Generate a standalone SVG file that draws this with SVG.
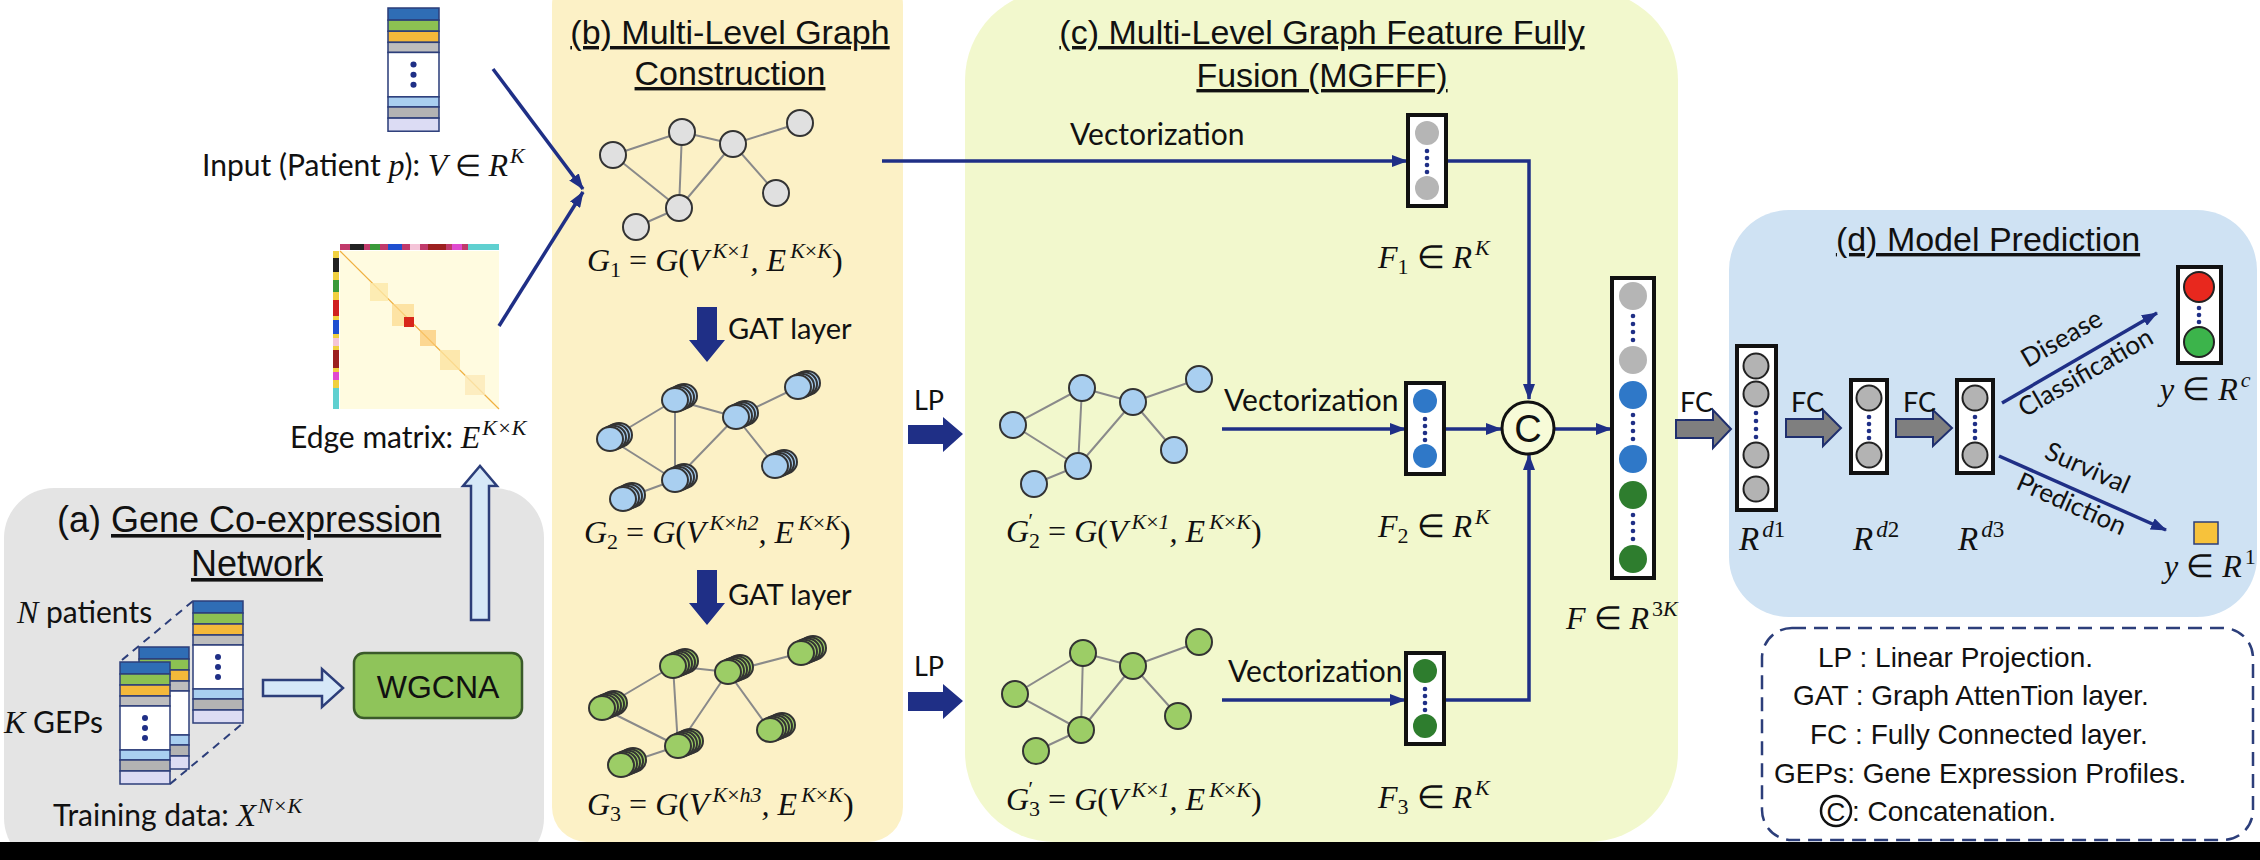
<svg xmlns="http://www.w3.org/2000/svg" xmlns:xlink="http://www.w3.org/1999/xlink" width="2260" height="860" viewBox="0 0 2260 860">
<style>
.ttl{font-family:"Liberation Sans",Arial,sans-serif;fill:#111;}
.lbl{font-family:Lato,"Open Sans",sans-serif;fill:#111;}
.math{font-family:"Liberation Serif",serif;font-style:italic;fill:#111;}
.up{font-style:normal;}
.edge{stroke:#8a8a8a;stroke-width:2;}
.n1{fill:#e0e0e0;stroke:#333;stroke-width:2;}
.n2{fill:#a9cff0;stroke:#333;stroke-width:2;}
.n3{fill:#9ccd66;stroke:#333;stroke-width:2;}
.conn{fill:none;stroke:#1f2f86;stroke-width:3.5;}
.vbox{fill:#fff;stroke:#111;stroke-width:4;}
.dot{fill:#1f2f86;}
.rc{fill:#b3b3b3;stroke:#222;stroke-width:2;}
.fc{fill:#7f7f7f;stroke:#1f2f6e;stroke-width:2;}
.hollow{fill:#d6e8f8;stroke:#2c3e7a;stroke-width:2.5;}
.navyfill{fill:#1f2f86;}
.stripe{stroke:#2c3e7a;stroke-width:1.5;}
</style>
<defs>
<marker id="ah" viewBox="0 0 16 12" refX="15" refY="6" markerWidth="16" markerHeight="12" markerUnits="userSpaceOnUse" orient="auto"><path d="M0,0 L16,6 L0,12 z" fill="#1f2f86"/></marker>
<g id="stk2"><ellipse cx="9" cy="-4" rx="13" ry="12" class="n2"/><ellipse cx="6" cy="-2.7" rx="13" ry="12" class="n2"/><ellipse cx="3" cy="-1.3" rx="13" ry="12" class="n2"/><ellipse cx="0" cy="0" rx="13" ry="12" class="n2"/></g>
<g id="stk3"><ellipse cx="12" cy="-5" rx="13" ry="12" class="n3"/><ellipse cx="9" cy="-3.7" rx="13" ry="12" class="n3"/><ellipse cx="6" cy="-2.5" rx="13" ry="12" class="n3"/><ellipse cx="3" cy="-1.2" rx="13" ry="12" class="n3"/><ellipse cx="0" cy="0" rx="13" ry="12" class="n3"/></g>
<g id="mat">
<rect x="0" y="0" width="50" height="12" fill="#2f6db5" class="stripe"/>
<rect x="0" y="12" width="50" height="11" fill="#8cc152" class="stripe"/>
<rect x="0" y="23" width="50" height="11" fill="#f4b93a" class="stripe"/>
<rect x="0" y="34" width="50" height="10" fill="#bdbdbd" class="stripe"/>
<rect x="0" y="44" width="50" height="44" fill="#fff" class="stripe"/>
<rect x="0" y="88" width="50" height="10" fill="#a9cff0" class="stripe"/>
<rect x="0" y="98" width="50" height="11" fill="#b3b3b3" class="stripe"/>
<rect x="0" y="109" width="50" height="13" fill="#dcdcf4" class="stripe"/>
<circle cx="25" cy="56" r="3" class="dot"/><circle cx="25" cy="66" r="3" class="dot"/><circle cx="25" cy="76" r="3" class="dot"/>
</g>
</defs>

<g id="panel-a"><rect x="4" y="488" width="540" height="380" rx="50" fill="#e4e4e4"/></g>
<g id="panel-b"><rect x="552" y="-30" width="351" height="872" rx="35" fill="#fcf1c6"/></g>
<g id="panel-c"><rect x="965" y="-10" width="713" height="852" rx="90" fill="#f2f8cd"/></g>
<g id="panel-d"><rect x="1729" y="210" width="528" height="407" rx="60" fill="#cfe2f3"/></g>

<g id="title-a">
<text class="ttl" x="57" y="532" font-size="36">(a)  <tspan text-decoration="underline">Gene Co-expression</tspan></text>
<text class="ttl" x="257" y="576" font-size="36" text-anchor="middle" text-decoration="underline">Network</text>
</g>
<g id="title-b">
<text class="ttl" x="730" y="44" font-size="34" text-anchor="middle" text-decoration="underline">(b) Multi-Level Graph</text>
<text class="ttl" x="730" y="85" font-size="34" text-anchor="middle" text-decoration="underline">Construction</text>
</g>
<g id="title-c">
<text class="ttl" x="1322" y="44" font-size="34" text-anchor="middle" text-decoration="underline">(c) Multi-Level Graph Feature Fully</text>
<text class="ttl" x="1322" y="87" font-size="34" text-anchor="middle" text-decoration="underline">Fusion (MGFFF)</text>
</g>
<g id="title-d"><text class="ttl" x="1988" y="251" font-size="34" text-anchor="middle" text-decoration="underline">(d) Model Prediction</text></g>

<g id="training-data">
<line x1="122" y1="660" x2="193" y2="601" stroke="#2c3e7a" stroke-width="2" stroke-dasharray="8 6"/>
<line x1="170" y1="784" x2="242" y2="724" stroke="#2c3e7a" stroke-width="2" stroke-dasharray="8 6"/>
<use xlink:href="#mat" transform="translate(193,601)"/>
<use xlink:href="#mat" transform="translate(139,647)"/>
<use xlink:href="#mat" transform="translate(120,662)"/>
<text class="lbl" x="17" y="623" font-size="30"><tspan class="math" font-size="32">N</tspan> patients</text>
<text class="lbl" x="4" y="733" font-size="30"><tspan class="math" font-size="32">K</tspan> GEPs</text>
<text class="lbl" x="53" y="826" font-size="30">Training data: <tspan class="math" font-size="32">X</tspan><tspan class="math" font-size="22" dy="-13" dx="2">N×K</tspan></text>
</g>
<g id="wgcna">
<rect x="354" y="653" width="168" height="65" rx="10" fill="#8fc45a" stroke="#3a5a2a" stroke-width="2.5"/>
<text class="ttl" x="438" y="698" font-size="32" text-anchor="middle">WGCNA</text>
</g>
<g id="input-vector">
<g transform="translate(388,8) scale(1.02,1.01)"><use xlink:href="#mat"/></g>
<text class="lbl" x="202" y="176" font-size="30">Input (Patient <tspan class="math" font-size="32">p</tspan>): <tspan class="math" font-size="32">V</tspan> ∈ <tspan class="math" font-size="32">R</tspan><tspan class="math" font-size="22" dy="-13" dx="2">K</tspan></text>
</g>
<g id="edge-matrix">
<rect x="340" y="251" width="159" height="158" fill="#fffbe0"/>
<rect x="340" y="244" width="159" height="6" fill="#c03a6b"/>
<rect x="350" y="244" width="14" height="6" fill="#222"/><rect x="370" y="244" width="10" height="6" fill="#3a9a3a"/><rect x="388" y="244" width="14" height="6" fill="#1f4fd0"/><rect x="410" y="244" width="10" height="6" fill="#f4c4d8"/><rect x="428" y="244" width="18" height="6" fill="#9c2020"/><rect x="452" y="244" width="10" height="6" fill="#e04ad0"/><rect x="468" y="244" width="31" height="6" fill="#5fd0d0"/>
<rect x="333" y="251" width="6" height="158" fill="#f0d040"/>
<rect x="333" y="258" width="6" height="14" fill="#222"/><rect x="333" y="280" width="6" height="12" fill="#3a9a3a"/><rect x="333" y="300" width="6" height="16" fill="#d02020"/><rect x="333" y="320" width="6" height="14" fill="#1f4fd0"/><rect x="333" y="338" width="6" height="8" fill="#f4c4d8"/><rect x="333" y="350" width="6" height="18" fill="#9c2020"/><rect x="333" y="372" width="6" height="8" fill="#e04ad0"/><rect x="333" y="388" width="6" height="21" fill="#5fd0d0"/>
<line x1="340" y1="251" x2="499" y2="409" stroke="#f0b040" stroke-width="1.2"/>
<rect x="370" y="283" width="18" height="18" fill="#fde9a8" opacity="0.8"/>
<rect x="392" y="304" width="22" height="22" fill="#fcd98a" opacity="0.7"/>
<rect x="404" y="317" width="10" height="10" fill="#d8261a"/>
<rect x="420" y="330" width="16" height="16" fill="#fbc870" opacity="0.7"/>
<rect x="440" y="350" width="20" height="20" fill="#fde3a0" opacity="0.8"/>
<rect x="465" y="375" width="20" height="20" fill="#fdeab8" opacity="0.8"/>
<text class="lbl" x="290" y="448" font-size="30">Edge matrix: <tspan class="math" font-size="32">E</tspan><tspan class="math" font-size="22" dy="-13" dx="2">K×K</tspan></text>
</g>
<g id="hollow-arrows">
<polygon class="hollow" points="263,680 322,680 322,669 343,688 322,707 322,696 263,696"/>
<polygon class="hollow" points="471,620 471,486 463,486 480,466 497,486 489,486 489,620"/>
</g>

<g id="connectors">
<line class="conn" x1="493" y1="69" x2="583" y2="189" marker-end="url(#ah)"/>
<line class="conn" x1="499" y1="326" x2="583" y2="192" marker-end="url(#ah)"/>
<line class="conn" x1="882" y1="161" x2="1407" y2="161" marker-end="url(#ah)"/>
<polyline class="conn" points="1446,161 1529,161 1529,399" marker-end="url(#ah)"/>
<line class="conn" x1="1222" y1="429" x2="1405" y2="429" marker-end="url(#ah)"/>
<line class="conn" x1="1444" y1="429" x2="1501" y2="429" marker-end="url(#ah)"/>
<line class="conn" x1="1222" y1="700" x2="1405" y2="700" marker-end="url(#ah)"/>
<polyline class="conn" points="1444,700 1529,700 1529,455" marker-end="url(#ah)"/>
<line class="conn" x1="1555" y1="429" x2="1611" y2="429" marker-end="url(#ah)"/>
<line class="conn" x1="2002" y1="403" x2="2157" y2="313" marker-end="url(#ah)"/>
<line class="conn" x1="1999" y1="456" x2="2166" y2="530" marker-end="url(#ah)"/>
<polygon class="navyfill" points="697,307 717,307 717,340 725,340 707,362 689,340 697,340"/>
<polygon class="navyfill" points="697,570 717,570 717,603 725,603 707,625 689,603 697,603"/>
<polygon class="navyfill" points="908,425 943,425 943,417 963,434 943,452 943,444 908,444"/>
<polygon class="navyfill" points="908,692 943,692 943,684 963,701 943,719 943,711 908,711"/>
<polygon class="fc" points="1676,420 1713,420 1713,410 1731,429 1713,448 1713,438 1676,438"/>
<polygon class="fc" points="1786,419 1823,419 1823,410 1841,428 1823,446 1823,437 1786,437"/>
<polygon class="fc" points="1896,419 1933,419 1933,410 1952,428 1933,446 1933,437 1896,437"/>
</g>
<g id="connector-labels">
<text class="lbl" x="728" y="339" font-size="29">GAT layer</text>
<text class="lbl" x="728" y="605" font-size="29">GAT layer</text>
<text class="lbl" x="914" y="410" font-size="27">LP</text>
<text class="lbl" x="914" y="676" font-size="27">LP</text>
<text class="lbl" x="1070" y="145" font-size="30">Vectorization</text>
<text class="lbl" x="1224" y="411" font-size="30">Vectorization</text>
<text class="lbl" x="1228" y="682" font-size="30">Vectorization</text>
<text class="lbl" x="1680" y="412" font-size="27">FC</text>
<text class="lbl" x="1791" y="412" font-size="27">FC</text>
<text class="lbl" x="1903" y="412" font-size="27">FC</text>
<g transform="translate(2066,346) rotate(-30)"><text class="lbl" font-size="26" text-anchor="middle" x="0" y="0">Disease</text></g>
<g transform="translate(2090,380) rotate(-30)"><text class="lbl" font-size="26" text-anchor="middle" x="0" y="0">Classification</text></g>
<g transform="translate(2084,476) rotate(24)"><text class="lbl" font-size="26" text-anchor="middle" x="0" y="0">Survival</text></g>
<g transform="translate(2068,512) rotate(24)"><text class="lbl" font-size="26" text-anchor="middle" x="0" y="0">Prediction</text></g>
</g>

<g id="graph-G1">
<path class="edge" d="M613,155L682,132M613,155L679,208M682,132L679,208M682,132L733,144M733,144L800,123M733,144L776,193M733,144L679,208M679,208L636,227"/>
<circle class="n1" cx="613" cy="155" r="13"/><circle class="n1" cx="682" cy="132" r="13"/><circle class="n1" cx="733" cy="144" r="13"/><circle class="n1" cx="800" cy="123" r="13"/><circle class="n1" cx="776" cy="193" r="13"/><circle class="n1" cx="679" cy="208" r="13"/><circle class="n1" cx="636" cy="227" r="13"/>
<text class="math" x="587" y="271" font-size="32">G<tspan class="up" font-size="22" dy="6">1</tspan><tspan dy="-6" class="up"> = </tspan>G<tspan class="up">(</tspan>V<tspan font-size="22" dy="-13" dx="4">K<tspan class="up">×</tspan>1</tspan><tspan dy="13">, E</tspan><tspan font-size="22" dy="-13" dx="4">K<tspan class="up">×</tspan>K</tspan><tspan dy="13" class="up">)</tspan></text>
</g>
<g id="graph-G2">
<path class="edge" d="M610,439L675,400M610,439L675,480M675,400L675,480M675,400L736,417M736,417L798,387M736,417L775,466M736,417L675,480M675,480L623,499"/>
<use xlink:href="#stk2" x="610" y="439"/><use xlink:href="#stk2" x="675" y="400"/><use xlink:href="#stk2" x="736" y="417"/><use xlink:href="#stk2" x="798" y="387"/><use xlink:href="#stk2" x="775" y="466"/><use xlink:href="#stk2" x="675" y="480"/><use xlink:href="#stk2" x="623" y="499"/>
<text class="math" x="584" y="543" font-size="32">G<tspan class="up" font-size="22" dy="6">2</tspan><tspan dy="-6" class="up"> = </tspan>G<tspan class="up">(</tspan>V<tspan font-size="22" dy="-13" dx="4">K<tspan class="up">×</tspan>h2</tspan><tspan dy="13">, E</tspan><tspan font-size="22" dy="-13" dx="4">K<tspan class="up">×</tspan>K</tspan><tspan dy="13" class="up">)</tspan></text>
</g>
<g id="graph-G3">
<path class="edge" d="M602,708L673,666M602,708L678,746M673,666L678,746M673,666L728,672M728,672L801,653M728,672L770,730M728,672L678,746M678,746L621,765"/>
<use xlink:href="#stk3" x="602" y="708"/><use xlink:href="#stk3" x="673" y="666"/><use xlink:href="#stk3" x="728" y="672"/><use xlink:href="#stk3" x="801" y="653"/><use xlink:href="#stk3" x="770" y="730"/><use xlink:href="#stk3" x="678" y="746"/><use xlink:href="#stk3" x="621" y="765"/>
<text class="math" x="587" y="815" font-size="32">G<tspan class="up" font-size="22" dy="6">3</tspan><tspan dy="-6" class="up"> = </tspan>G<tspan class="up">(</tspan>V<tspan font-size="22" dy="-13" dx="4">K<tspan class="up">×</tspan>h3</tspan><tspan dy="13">, E</tspan><tspan font-size="22" dy="-13" dx="4">K<tspan class="up">×</tspan>K</tspan><tspan dy="13" class="up">)</tspan></text>
</g>
<g id="graph-G2p">
<path class="edge" d="M1013,425L1082,388M1013,425L1078,466M1082,388L1078,466M1082,388L1133,402M1133,402L1199,379M1133,402L1174,450M1133,402L1078,466M1078,466L1034,484"/>
<circle class="n2" cx="1013" cy="425" r="13"/><circle class="n2" cx="1082" cy="388" r="13"/><circle class="n2" cx="1133" cy="402" r="13"/><circle class="n2" cx="1199" cy="379" r="13"/><circle class="n2" cx="1174" cy="450" r="13"/><circle class="n2" cx="1078" cy="466" r="13"/><circle class="n2" cx="1034" cy="484" r="13"/>
<text class="math" x="1006" y="542" font-size="32">G<tspan class="up" font-size="22" dy="6">2</tspan><tspan dy="-6" class="up"> = </tspan>G<tspan class="up">(</tspan>V<tspan font-size="22" dy="-13" dx="4">K<tspan class="up">×</tspan>1</tspan><tspan dy="13">, E</tspan><tspan font-size="22" dy="-13" dx="4">K<tspan class="up">×</tspan>K</tspan><tspan dy="13" class="up">)</tspan></text>
<text class="math" x="1027" y="528" font-size="22">′</text>
</g>
<g id="graph-G3p">
<path class="edge" d="M1015,694L1083,653M1015,694L1081,730M1083,653L1081,730M1083,653L1133,666M1133,666L1199,642M1133,666L1178,716M1133,666L1081,730M1081,730L1036,751"/>
<circle class="n3" cx="1015" cy="694" r="13"/><circle class="n3" cx="1083" cy="653" r="13"/><circle class="n3" cx="1133" cy="666" r="13"/><circle class="n3" cx="1199" cy="642" r="13"/><circle class="n3" cx="1178" cy="716" r="13"/><circle class="n3" cx="1081" cy="730" r="13"/><circle class="n3" cx="1036" cy="751" r="13"/>
<text class="math" x="1006" y="810" font-size="32">G<tspan class="up" font-size="22" dy="6">3</tspan><tspan dy="-6" class="up"> = </tspan>G<tspan class="up">(</tspan>V<tspan font-size="22" dy="-13" dx="4">K<tspan class="up">×</tspan>1</tspan><tspan dy="13">, E</tspan><tspan font-size="22" dy="-13" dx="4">K<tspan class="up">×</tspan>K</tspan><tspan dy="13" class="up">)</tspan></text>
<text class="math" x="1027" y="796" font-size="22">′</text>
</g>

<g id="F1">
<rect class="vbox" x="1408" y="115" width="38" height="91"/>
<circle cx="1427" cy="133" r="12" fill="#b5b5b5"/><circle cx="1427" cy="188" r="12" fill="#b5b5b5"/>
<circle cx="1427" cy="151" r="2.3" class="dot"/><circle cx="1427" cy="158" r="2.3" class="dot"/><circle cx="1427" cy="165" r="2.3" class="dot"/><circle cx="1427" cy="172" r="2.3" class="dot"/>
<text class="math" x="1378" y="268" font-size="32">F<tspan class="up" font-size="22" dy="6">1</tspan><tspan dy="-6" class="up"> ∈ </tspan>R<tspan font-size="22" dy="-13" dx="3">K</tspan></text>
</g>
<g id="F2">
<rect class="vbox" x="1406" y="383" width="38" height="91"/>
<circle cx="1425" cy="401" r="12" fill="#2f78c8"/><circle cx="1425" cy="456" r="12" fill="#2f78c8"/>
<circle cx="1425" cy="419" r="2.3" class="dot"/><circle cx="1425" cy="426" r="2.3" class="dot"/><circle cx="1425" cy="433" r="2.3" class="dot"/><circle cx="1425" cy="440" r="2.3" class="dot"/>
<text class="math" x="1378" y="537" font-size="32">F<tspan class="up" font-size="22" dy="6">2</tspan><tspan dy="-6" class="up"> ∈ </tspan>R<tspan font-size="22" dy="-13" dx="3">K</tspan></text>
</g>
<g id="F3">
<rect class="vbox" x="1406" y="653" width="38" height="91"/>
<circle cx="1425" cy="671" r="12" fill="#2e7d2e"/><circle cx="1425" cy="726" r="12" fill="#2e7d2e"/>
<circle cx="1425" cy="689" r="2.3" class="dot"/><circle cx="1425" cy="696" r="2.3" class="dot"/><circle cx="1425" cy="703" r="2.3" class="dot"/><circle cx="1425" cy="710" r="2.3" class="dot"/>
<text class="math" x="1378" y="808" font-size="32">F<tspan class="up" font-size="22" dy="6">3</tspan><tspan dy="-6" class="up"> ∈ </tspan>R<tspan font-size="22" dy="-13" dx="3">K</tspan></text>
</g>
<g id="concat">
<circle cx="1528" cy="428" r="26" fill="#f7fbd8" stroke="#111" stroke-width="3"/>
<text class="ttl" x="1528" y="442" font-size="38" text-anchor="middle">C</text>
</g>
<g id="F">
<rect class="vbox" x="1612" y="278" width="42" height="300"/>
<circle cx="1633" cy="296" r="14" fill="#b5b5b5"/><circle cx="1633" cy="360" r="14" fill="#b5b5b5"/>
<circle cx="1633" cy="395" r="14" fill="#2f78c8"/><circle cx="1633" cy="459" r="14" fill="#2f78c8"/>
<circle cx="1633" cy="495" r="14" fill="#2e7d2e"/><circle cx="1633" cy="559" r="14" fill="#2e7d2e"/>
<g class="dot"><circle cx="1633" cy="316" r="2.3"/><circle cx="1633" cy="324" r="2.3"/><circle cx="1633" cy="332" r="2.3"/><circle cx="1633" cy="340" r="2.3"/>
<circle cx="1633" cy="415" r="2.3"/><circle cx="1633" cy="423" r="2.3"/><circle cx="1633" cy="431" r="2.3"/><circle cx="1633" cy="439" r="2.3"/>
<circle cx="1633" cy="515" r="2.3"/><circle cx="1633" cy="523" r="2.3"/><circle cx="1633" cy="531" r="2.3"/><circle cx="1633" cy="539" r="2.3"/></g>
<text class="math" x="1566" y="629" font-size="32">F<tspan class="up"> ∈ </tspan>R<tspan font-size="22" dy="-13" dx="3"><tspan class="up">3</tspan>K</tspan></text>
</g>

<g id="Rd1">
<rect class="vbox" x="1737" y="346" width="39" height="164"/>
<circle class="rc" cx="1756" cy="366" r="12.5"/><circle class="rc" cx="1756" cy="394" r="12.5"/><circle class="rc" cx="1756" cy="455" r="12.5"/><circle class="rc" cx="1756" cy="489" r="12.5"/>
<g class="dot"><circle cx="1756" cy="413" r="2.3"/><circle cx="1756" cy="421" r="2.3"/><circle cx="1756" cy="429" r="2.3"/><circle cx="1756" cy="437" r="2.3"/></g>
<text class="math" x="1739" y="550" font-size="33">R<tspan font-size="23" dy="-13" dx="3">d<tspan class="up">1</tspan></tspan></text>
</g>
<g id="Rd2">
<rect class="vbox" x="1851" y="380" width="36" height="93"/>
<circle class="rc" cx="1869" cy="398" r="12.5"/><circle class="rc" cx="1869" cy="455" r="12.5"/>
<g class="dot"><circle cx="1869" cy="417" r="2.3"/><circle cx="1869" cy="424" r="2.3"/><circle cx="1869" cy="431" r="2.3"/><circle cx="1869" cy="438" r="2.3"/></g>
<text class="math" x="1853" y="550" font-size="33">R<tspan font-size="23" dy="-13" dx="3">d<tspan class="up">2</tspan></tspan></text>
</g>
<g id="Rd3">
<rect class="vbox" x="1957" y="380" width="36" height="93"/>
<circle class="rc" cx="1975" cy="398" r="12.5"/><circle class="rc" cx="1975" cy="455" r="12.5"/>
<g class="dot"><circle cx="1975" cy="417" r="2.3"/><circle cx="1975" cy="424" r="2.3"/><circle cx="1975" cy="431" r="2.3"/><circle cx="1975" cy="438" r="2.3"/></g>
<text class="math" x="1958" y="550" font-size="33">R<tspan font-size="23" dy="-13" dx="3">d<tspan class="up">3</tspan></tspan></text>
</g>
<g id="y-class">
<rect class="vbox" x="2178" y="267" width="43" height="96"/>
<circle cx="2199" cy="287" r="15" fill="#e8281e" stroke="#222" stroke-width="2"/>
<circle cx="2199" cy="342" r="15" fill="#3cb44b" stroke="#222" stroke-width="2"/>
<circle cx="2199" cy="308" r="2.3" class="dot"/><circle cx="2199" cy="315" r="2.3" class="dot"/><circle cx="2199" cy="322" r="2.3" class="dot"/>
<text class="math" x="2160" y="400" font-size="32">y<tspan class="up"> ∈ </tspan>R<tspan font-size="22" dy="-13" dx="3">c</tspan></text>
</g>
<g id="y-surv">
<rect x="2194" y="522" width="24" height="22" fill="#f7c23b" stroke="#2c3e7a" stroke-width="1.5"/>
<text class="math" x="2164" y="577" font-size="32">y<tspan class="up"> ∈ </tspan>R<tspan class="up" font-size="22" dy="-13" dx="3">1</tspan></text>
</g>

<g id="legend">
<rect x="1762" y="628" width="491" height="212" rx="30" fill="none" stroke="#2c3e7a" stroke-width="2.5" stroke-dasharray="14 8"/>
<text class="ttl" font-size="28" x="1818" y="667">LP : Linear Projection.</text>
<text class="ttl" font-size="28" x="1793" y="705">GAT : Graph AttenTion layer.</text>
<text class="ttl" font-size="28" x="1810" y="744">FC : Fully Connected layer.</text>
<text class="ttl" font-size="28" x="1774" y="783">GEPs: Gene Expression Profiles.</text>
<circle cx="1836" cy="811" r="15" fill="none" stroke="#111" stroke-width="2.5"/>
<text class="ttl" font-size="26" x="1836" y="821" text-anchor="middle">C</text>
<text class="ttl" font-size="28" x="1852" y="821">: Concatenation.</text>
</g>

<rect x="0" y="842" width="2260" height="18" fill="#000"/>
</svg>
